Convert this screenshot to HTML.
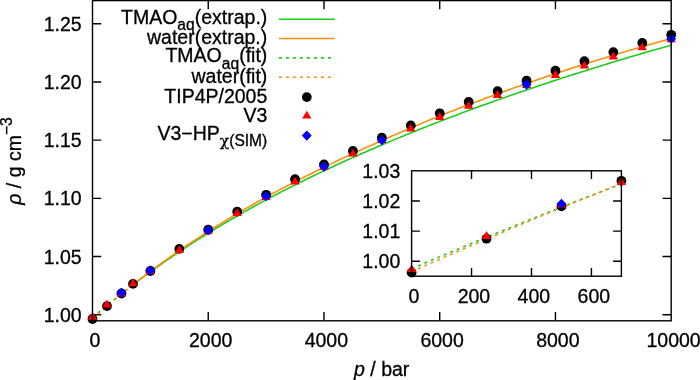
<!DOCTYPE html>
<html><head><meta charset="utf-8"><title>density vs pressure</title>
<style>html,body{margin:0;padding:0;background:#fff;}svg{display:block;}text{stroke:#000;stroke-width:0.3px;}</style>
</head><body>
<svg width="700" height="380" viewBox="0 0 700 380" font-family="'Liberation Sans', Arial, Helvetica, sans-serif" font-size="19.5">
<rect width="700" height="380" fill="#fff"/>
<path d="M92.5,314.70h8.7M671.2,314.70h-8.7M92.5,256.52h8.7M671.2,256.52h-8.7M92.5,198.34h8.7M671.2,198.34h-8.7M92.5,140.16h8.7M671.2,140.16h-8.7M92.5,81.98h8.7M671.2,81.98h-8.7M92.5,23.80h8.7M671.2,23.80h-8.7M208.24,320.8v-8.7M208.24,0.6v8.7M323.98,320.8v-8.7M323.98,0.6v8.7M439.72,320.8v-8.7M439.72,0.6v8.7M555.46,320.8v-8.7M555.46,0.6v8.7" stroke="#000" stroke-width="1.4" fill="none"/>
<path d="M133.01,284.82 L135.71,282.77 L138.42,280.73 L141.12,278.71 L143.83,276.71 L146.53,274.72 L149.24,272.74 L151.94,270.78 L154.64,268.84 L157.35,266.91 L160.05,265.00 L162.76,263.10 L165.46,261.21 L168.17,259.34 L170.87,257.48 L173.58,255.64 L176.28,253.81 L178.99,251.99 L181.69,250.19 L184.39,248.40 L187.10,246.63 L189.80,244.86 L192.51,243.11 L195.21,241.37 L197.92,239.65 L200.62,237.94 L203.33,236.23 L206.03,234.55 L208.73,232.87 L211.44,231.20 L214.14,229.55 L216.85,227.91 L219.55,226.28 L222.26,224.66 L224.96,223.05 L227.67,221.46 L230.37,219.87 L233.07,218.30 L235.78,216.73 L238.48,215.18 L241.19,213.63 L243.89,212.10 L246.60,210.58 L249.30,209.06 L252.01,207.56 L254.71,206.07 L257.41,204.58 L260.12,203.11 L262.82,201.64 L265.53,200.19 L268.23,198.74 L270.94,197.30 L273.64,195.88 L276.35,194.46 L279.05,193.05 L281.76,191.64 L284.46,190.25 L287.16,188.87 L289.87,187.49 L292.57,186.12 L295.28,184.76 L297.98,183.41 L300.69,182.06 L303.39,180.72 L306.10,179.39 L308.80,178.07 L311.50,176.76 L314.21,175.45 L316.91,174.15 L319.62,172.86 L322.32,171.57 L325.03,170.30 L327.73,169.02 L330.44,167.76 L333.14,166.50 L335.84,165.25 L338.55,164.01 L341.25,162.77 L343.96,161.54 L346.66,160.31 L349.37,159.09 L352.07,157.88 L354.78,156.67 L357.48,155.47 L360.19,154.28 L362.89,153.09 L365.59,151.90 L368.30,150.73 L371.00,149.55 L373.71,148.39 L376.41,147.23 L379.12,146.07 L381.82,144.92 L384.53,143.78 L387.23,142.64 L389.93,141.50 L392.64,140.37 L395.34,139.25 L398.05,138.13 L400.75,137.01 L403.46,135.90 L406.16,134.80 L408.87,133.70 L411.57,132.60 L414.27,131.51 L416.98,130.43 L419.68,129.34 L422.39,128.27 L425.09,127.19 L427.80,126.12 L430.50,125.06 L433.21,124.00 L435.91,122.94 L438.61,121.89 L441.32,120.84 L444.02,119.80 L446.73,118.76 L449.43,117.72 L452.14,116.69 L454.84,115.66 L457.55,114.64 L460.25,113.62 L462.96,112.60 L465.66,111.59 L468.36,110.58 L471.07,109.57 L473.77,108.57 L476.48,107.58 L479.18,106.59 L481.89,105.62 L484.59,104.64 L487.30,103.67 L490.00,102.70 L492.70,101.74 L495.41,100.78 L498.11,99.82 L500.82,98.87 L503.52,97.92 L506.23,96.97 L508.93,96.03 L511.64,95.09 L514.34,94.15 L517.04,93.22 L519.75,92.28 L522.45,91.36 L525.16,90.43 L527.86,89.51 L530.57,88.60 L533.27,87.68 L535.98,86.77 L538.68,85.86 L541.39,84.96 L544.09,84.06 L546.79,83.16 L549.50,82.26 L552.20,81.37 L554.91,80.48 L557.61,79.60 L560.32,78.72 L563.02,77.84 L565.73,76.97 L568.43,76.10 L571.13,75.24 L573.84,74.38 L576.54,73.52 L579.25,72.66 L581.95,71.81 L584.66,70.96 L587.36,70.12 L590.07,69.28 L592.77,68.43 L595.47,67.58 L598.18,66.73 L600.88,65.89 L603.59,65.05 L606.29,64.21 L609.00,63.38 L611.70,62.54 L614.41,61.72 L617.11,60.89 L619.81,60.07 L622.52,59.26 L625.22,58.44 L627.93,57.63 L630.63,56.83 L633.34,56.03 L636.04,55.23 L638.75,54.43 L641.45,53.64 L644.16,52.86 L646.86,52.08 L649.56,51.30 L652.27,50.52 L654.97,49.75 L657.68,48.99 L660.38,48.22 L663.09,47.47 L665.79,46.71 L668.50,45.96 L671.20,45.22" stroke="#1ecc1e" stroke-width="1.6" fill="none"/>
<path d="M133.01,284.72 L135.71,282.60 L138.42,280.49 L141.12,278.40 L143.83,276.32 L146.53,274.27 L149.24,272.23 L151.94,270.20 L154.64,268.19 L157.35,266.20 L160.05,264.22 L162.76,262.26 L165.46,260.31 L168.17,258.38 L170.87,256.46 L173.58,254.56 L176.28,252.67 L178.99,250.80 L181.69,248.94 L184.39,247.10 L187.10,245.27 L189.80,243.45 L192.51,241.64 L195.21,239.85 L197.92,238.08 L200.62,236.31 L203.33,234.56 L206.03,232.82 L208.73,231.10 L211.44,229.38 L214.14,227.68 L216.85,225.99 L219.55,224.32 L222.26,222.65 L224.96,221.00 L227.67,219.35 L230.37,217.72 L233.07,216.10 L235.78,214.50 L238.48,212.90 L241.19,211.31 L243.89,209.73 L246.60,208.17 L249.30,206.61 L252.01,205.07 L254.71,203.53 L257.41,202.01 L260.12,200.49 L262.82,198.99 L265.53,197.49 L268.23,196.00 L270.94,194.53 L273.64,193.06 L276.35,191.60 L279.05,190.15 L281.76,188.71 L284.46,187.28 L287.16,185.85 L289.87,184.44 L292.57,183.03 L295.28,181.63 L297.98,180.24 L300.69,178.86 L303.39,177.48 L306.10,176.12 L308.80,174.76 L311.50,173.41 L314.21,172.06 L316.91,170.73 L319.62,169.40 L322.32,168.07 L325.03,166.76 L327.73,165.45 L330.44,164.15 L333.14,162.86 L335.84,161.57 L338.55,160.29 L341.25,159.01 L343.96,157.74 L346.66,156.48 L349.37,155.23 L352.07,153.98 L354.78,152.73 L357.48,151.50 L360.19,150.27 L362.89,149.04 L365.59,147.82 L368.30,146.61 L371.00,145.40 L373.71,144.20 L376.41,143.00 L379.12,141.81 L381.82,140.60 L384.53,139.40 L387.23,138.19 L389.93,136.99 L392.64,135.80 L395.34,134.61 L398.05,133.43 L400.75,132.25 L403.46,131.08 L406.16,129.91 L408.87,128.75 L411.57,127.59 L414.27,126.44 L416.98,125.29 L419.68,124.14 L422.39,123.00 L425.09,121.87 L427.80,120.74 L430.50,119.61 L433.21,118.52 L435.91,117.44 L438.61,116.36 L441.32,115.28 L444.02,114.21 L446.73,113.14 L449.43,112.07 L452.14,111.01 L454.84,109.96 L457.55,108.90 L460.25,107.86 L462.96,106.81 L465.66,105.77 L468.36,104.73 L471.07,103.70 L473.77,102.67 L476.48,101.65 L479.18,100.64 L481.89,99.63 L484.59,98.62 L487.30,97.62 L490.00,96.63 L492.70,95.63 L495.41,94.64 L498.11,93.66 L500.82,92.68 L503.52,91.70 L506.23,90.72 L508.93,89.75 L511.64,88.79 L514.34,87.82 L517.04,86.86 L519.75,85.91 L522.45,84.95 L525.16,84.01 L527.86,83.06 L530.57,82.12 L533.27,81.18 L535.98,80.25 L538.68,79.32 L541.39,78.39 L544.09,77.47 L546.79,76.55 L549.50,75.64 L552.20,74.74 L554.91,73.83 L557.61,72.93 L560.32,72.04 L563.02,71.14 L565.73,70.26 L568.43,69.37 L571.13,68.49 L573.84,67.62 L576.54,66.75 L579.25,65.88 L581.95,65.01 L584.66,64.16 L587.36,63.30 L590.07,62.45 L592.77,61.60 L595.47,60.76 L598.18,59.92 L600.88,59.09 L603.59,58.26 L606.29,57.42 L609.00,56.58 L611.70,55.75 L614.41,54.92 L617.11,54.10 L619.81,53.28 L622.52,52.46 L625.22,51.65 L627.93,50.85 L630.63,50.05 L633.34,49.25 L636.04,48.46 L638.75,47.68 L641.45,46.90 L644.16,46.13 L646.86,45.36 L649.56,44.60 L652.27,43.84 L654.97,43.09 L657.68,42.34 L660.38,41.60 L663.09,40.87 L665.79,40.14 L668.50,39.42 L671.20,38.70" stroke="#ff8f0a" stroke-width="1.6" fill="none"/>
<path d="M92.50,317.58 L93.90,316.38 L95.29,315.19 L96.69,314.01 L98.09,312.82 L99.48,311.65 L100.88,310.48 L102.28,309.31 L103.67,308.15 L105.07,306.99 L106.47,305.84 L107.87,304.69 L109.26,303.55 L110.66,302.41 L112.06,301.28 L113.45,300.15 L114.85,299.02 L116.25,297.90 L117.64,296.79 L119.04,295.68 L120.44,294.57 L121.83,293.47 L123.23,292.37 L124.63,291.28 L126.02,290.19 L127.42,289.11 L128.82,288.03 L130.22,286.96 L131.61,285.88 L133.01,284.82" stroke="#1ecc1e" stroke-width="1.6" fill="none" stroke-dasharray="3 4"/>
<path d="M92.50,318.74 L93.90,317.49 L95.29,316.25 L96.69,315.02 L98.09,313.79 L99.48,312.57 L100.88,311.35 L102.28,310.13 L103.67,308.93 L105.07,307.72 L106.47,306.53 L107.87,305.33 L109.26,304.15 L110.66,302.96 L112.06,301.79 L113.45,300.62 L114.85,299.45 L116.25,298.29 L117.64,297.13 L119.04,295.98 L120.44,294.83 L121.83,293.69 L123.23,292.55 L124.63,291.42 L126.02,290.29 L127.42,289.17 L128.82,288.05 L130.22,286.94 L131.61,285.83 L133.01,284.72" stroke="#ff8f0a" stroke-width="1.6" fill="none" stroke-dasharray="3 4"/>
<g fill="#000"><circle cx="92.50" cy="319.00" r="4.9"/><circle cx="106.97" cy="306.10" r="4.9"/><circle cx="121.44" cy="293.50" r="4.9"/><circle cx="133.01" cy="283.90" r="4.9"/><circle cx="150.37" cy="271.00" r="4.9"/><circle cx="179.31" cy="248.90" r="4.9"/><circle cx="208.24" cy="229.70" r="4.9"/><circle cx="237.18" cy="211.60" r="4.9"/><circle cx="266.11" cy="194.80" r="4.9"/><circle cx="295.05" cy="179.20" r="4.9"/><circle cx="323.98" cy="164.50" r="4.9"/><circle cx="352.92" cy="151.00" r="4.9"/><circle cx="381.85" cy="137.60" r="4.9"/><circle cx="410.79" cy="125.40" r="4.9"/><circle cx="439.72" cy="113.30" r="4.9"/><circle cx="468.66" cy="101.90" r="4.9"/><circle cx="497.59" cy="91.10" r="4.9"/><circle cx="526.53" cy="80.70" r="4.9"/><circle cx="555.46" cy="70.70" r="4.9"/><circle cx="584.39" cy="61.20" r="4.9"/><circle cx="613.33" cy="52.10" r="4.9"/><circle cx="642.26" cy="42.90" r="4.9"/><circle cx="671.20" cy="34.80" r="4.9"/></g>
<g fill="#f00"><path d="M92.50,312.00L97.20,319.80L87.80,319.80Z"/><path d="M106.97,299.80L111.67,307.60L102.27,307.60Z"/><path d="M121.44,288.80L126.14,296.60L116.73,296.60Z"/><path d="M133.01,278.50L137.71,286.30L128.31,286.30Z"/><path d="M150.37,266.30L155.07,274.10L145.67,274.10Z"/><path d="M179.31,245.10L184.00,252.90L174.61,252.90Z"/><path d="M208.24,225.80L212.94,233.60L203.54,233.60Z"/><path d="M237.18,208.30L241.88,216.10L232.48,216.10Z"/><path d="M266.11,192.30L270.81,200.10L261.41,200.10Z"/><path d="M295.05,176.80L299.75,184.60L290.35,184.60Z"/><path d="M323.98,162.30L328.68,170.10L319.28,170.10Z"/><path d="M352.92,148.80L357.62,156.60L348.22,156.60Z"/><path d="M381.85,135.30L386.55,143.10L377.15,143.10Z"/><path d="M410.79,123.70L415.49,131.50L406.09,131.50Z"/><path d="M439.72,112.10L444.42,119.90L435.02,119.90Z"/><path d="M468.66,100.90L473.36,108.70L463.96,108.70Z"/><path d="M497.59,90.10L502.29,97.90L492.89,97.90Z"/><path d="M526.53,80.30L531.23,88.10L521.83,88.10Z"/><path d="M555.46,70.10L560.16,77.90L550.76,77.90Z"/><path d="M584.39,60.70L589.10,68.50L579.69,68.50Z"/><path d="M613.33,51.60L618.03,59.40L608.63,59.40Z"/><path d="M642.26,42.50L646.97,50.30L637.56,50.30Z"/><path d="M671.20,34.40L675.90,42.20L666.50,42.20Z"/></g>
<g fill="#00f"><path d="M121.44,287.75L126.39,292.80L121.44,297.85L116.48,292.80Z"/><path d="M150.37,265.45L155.32,270.50L150.37,275.55L145.42,270.50Z"/><path d="M208.24,225.25L213.19,230.30L208.24,235.35L203.29,230.30Z"/><path d="M266.11,191.25L271.06,196.30L266.11,201.35L261.16,196.30Z"/><path d="M323.98,161.55L328.93,166.60L323.98,171.65L319.03,166.60Z"/><path d="M381.85,135.25L386.80,140.30L381.85,145.35L376.90,140.30Z"/><path d="M526.53,79.55L531.48,84.60L526.53,89.65L521.58,84.60Z"/><path d="M671.20,33.75L676.15,38.80L671.20,43.85L666.25,38.80Z"/></g>
<rect x="92.5" y="0.6" width="578.7" height="320.2" stroke="#000" stroke-width="1.4" fill="none"/>
<text x="81.7" y="321.70" text-anchor="end">1.00</text>
<text x="81.7" y="263.52" text-anchor="end">1.05</text>
<text x="81.7" y="205.34" text-anchor="end">1.10</text>
<text x="81.7" y="147.16" text-anchor="end">1.15</text>
<text x="81.7" y="88.98" text-anchor="end">1.20</text>
<text x="81.7" y="30.80" text-anchor="end">1.25</text>
<text x="94.90" y="346.6" text-anchor="middle">0</text>
<text x="210.64" y="346.6" text-anchor="middle">2000</text>
<text x="326.38" y="346.6" text-anchor="middle">4000</text>
<text x="442.12" y="346.6" text-anchor="middle">6000</text>
<text x="557.86" y="346.6" text-anchor="middle">8000</text>
<text x="673.60" y="346.6" text-anchor="middle">10000</text>
<text x="381.7" y="375.9" text-anchor="middle"><tspan font-style="italic">p</tspan> / bar</text>
<text transform="translate(20.6,161) rotate(-90)" text-anchor="middle"><tspan font-style="italic">ρ</tspan> / g cm<tspan dy="-9" font-size="15.6">−3</tspan></text>
<text x="267.3" y="23.75" text-anchor="end">TMAO<tspan dy="6.7" font-size="15.6">aq</tspan><tspan dy="-6.7">(extrap.)</tspan></text>
<text x="267.3" y="43.7" text-anchor="end">water(extrap.)</text>
<text x="267.3" y="62.3" text-anchor="end">TMAO<tspan dy="6.7" font-size="15.6">aq</tspan><tspan dy="-6.7">(fit)</tspan></text>
<text x="267.3" y="83.1" text-anchor="end">water(fit)</text>
<text x="267.3" y="103.2" text-anchor="end">TIP4P/2005</text>
<text x="267.3" y="122.3" text-anchor="end">V3</text>
<text x="267.3" y="140.1" text-anchor="end">V3−HP<tspan dy="5.7" font-size="15.6"><tspan font-family="'DejaVu Serif', 'Liberation Serif', serif">χ</tspan>(SIM)</tspan></text>
<path d="M278.9,19.2H334.8" stroke="#1ecc1e" stroke-width="1.6"/>
<path d="M278.9,38.5H334.8" stroke="#ff8f0a" stroke-width="1.6"/>
<path d="M278.9,57.9H334.8" stroke="#1ecc1e" stroke-width="1.6" stroke-dasharray="3 4"/>
<path d="M278.9,77.2H334.8" stroke="#ff8f0a" stroke-width="1.6" stroke-dasharray="3 4"/>
<g fill="#000"><circle cx="306.80" cy="97.10" r="4.9"/></g>
<g fill="#f00"><path d="M306.80,110.80L311.50,118.60L302.10,118.60Z"/></g>
<g fill="#00f"><path d="M306.80,130.55L311.75,135.60L306.80,140.65L301.85,135.60Z"/></g>
<rect x="411.6" y="170.8" width="209.79999999999995" height="105.39999999999998" fill="#fff"/>
<path d="M411.6,261.30h8.3M621.4,261.30h-8.3M411.6,231.15h8.3M621.4,231.15h-8.3M411.6,201.00h8.3M621.4,201.00h-8.3M471.54,276.2v-8.3M471.54,170.8v8.3M531.49,276.2v-8.3M531.49,170.8v8.3M591.43,276.2v-8.3M591.43,170.8v8.3" stroke="#000" stroke-width="1.4" fill="none"/>
<path d="M411.60,268.76 L418.83,265.66 L426.07,262.57 L433.30,259.50 L440.54,256.44 L447.77,253.39 L455.01,250.35 L462.24,247.33 L469.48,244.32 L476.71,241.32 L483.94,238.34 L491.18,235.36 L498.41,232.40 L505.65,229.45 L512.88,226.52 L520.12,223.59 L527.35,220.68 L534.59,217.78 L541.82,214.89 L549.06,212.01 L556.29,209.15 L563.52,206.29 L570.76,203.45 L577.99,200.62 L585.23,197.80 L592.46,194.99 L599.70,192.20 L606.93,189.41 L614.17,186.64 L621.40,183.87" stroke="#1ecc1e" stroke-width="1.6" fill="none" stroke-dasharray="3 4"/>
<path d="M411.60,271.76 L418.83,268.53 L426.07,265.32 L433.30,262.12 L440.54,258.94 L447.77,255.77 L455.01,252.61 L462.24,249.47 L469.48,246.34 L476.71,243.22 L483.94,240.12 L491.18,237.03 L498.41,233.96 L505.65,230.89 L512.88,227.84 L520.12,224.81 L527.35,221.78 L534.59,218.77 L541.82,215.77 L549.06,212.79 L556.29,209.82 L563.52,206.86 L570.76,203.91 L577.99,200.97 L585.23,198.05 L592.46,195.14 L599.70,192.24 L606.93,189.36 L614.17,186.49 L621.40,183.62" stroke="#ff8f0a" stroke-width="1.6" fill="none" stroke-dasharray="3 4"/>
<g fill="#000"><circle cx="411.60" cy="272.60" r="4.9"/><circle cx="486.53" cy="238.70" r="4.9"/><circle cx="561.46" cy="206.40" r="4.9"/><circle cx="621.40" cy="180.80" r="4.9"/></g>
<g fill="#f00"><path d="M411.60,264.20L416.30,272.00L406.90,272.00Z"/><path d="M486.53,231.10L491.23,238.90L481.83,238.90Z"/><path d="M561.46,199.80L566.16,207.60L556.76,207.60Z"/><path d="M621.40,177.30L626.10,185.10L616.70,185.10Z"/></g>
<g fill="#00f"><path d="M561.46,198.75L566.41,203.80L561.46,208.85L556.51,203.80Z"/></g>
<rect x="411.6" y="170.8" width="209.79999999999995" height="105.39999999999998" stroke="#000" stroke-width="1.4" fill="none"/>
<text x="400.3" y="268.30" text-anchor="end">1.00</text>
<text x="400.3" y="238.15" text-anchor="end">1.01</text>
<text x="400.3" y="208.00" text-anchor="end">1.02</text>
<text x="400.3" y="177.85" text-anchor="end">1.03</text>
<text x="414.00" y="302.8" text-anchor="middle">0</text>
<text x="473.94" y="302.8" text-anchor="middle">200</text>
<text x="533.89" y="302.8" text-anchor="middle">400</text>
<text x="593.83" y="302.8" text-anchor="middle">600</text>
</svg>
</body></html>
